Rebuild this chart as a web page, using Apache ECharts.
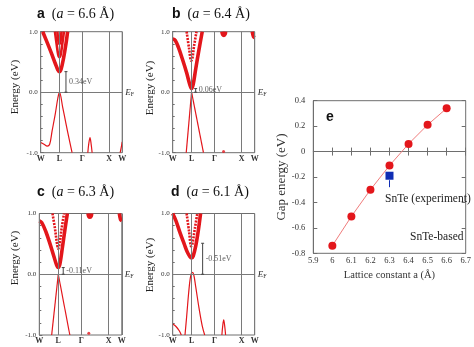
<!DOCTYPE html>
<html><head><meta charset="utf-8">
<script src="https://cdn.jsdelivr.net/npm/echarts@6/dist/echarts.min.js"></script>
<style>html,body{margin:0;padding:0;background:#fff}#c{width:474px;height:347px}</style>
</head><body><div id="c"></div>
<script>
// k-path of the band plots (fraction of path length)
const kNames = ['W', 'L', 'Γ', 'X', 'W'];
const kPos = [0, 0.23, 0.51, 0.84, 1];

// panel titles
const panelLetters = ['a', 'b', 'c', 'd'];
const panelLattice = ['6.6', '6.4', '6.3', '6.1'];
// gap at L quoted in each panel (eV)
const gapValues = [0.34, 0.06, -0.11, -0.51];

// ---- a = 6.6 Å ----
const aValence = [[0, -0.83], [0.04, -0.86], [0.08, -0.89], [0.11, -0.86], [0.14, -0.64], [0.18, -0.35], [0.21, -0.1], [0.23, 0], [0.27, -0.25], [0.31, -0.52], [0.35, -0.78], [0.385, -1.0]];
const aPeak = [[0.578, -1], [0.59, -0.85], [0.605, -0.75], [0.618, -0.85], [0.631, -1]];
const aEdge = [[0.975, -1.0], [0.99, -0.9], [1.0, -0.82]];
const aConduction = [[0.025, 1.0], [0.08, 0.82], [0.13, 0.65], [0.18, 0.47], [0.21, 0.37], [0.23, 0.34], [0.25, 0.38], [0.28, 0.56], [0.31, 0.8], [0.33, 1.0]];
const aUpper1 = [[0.175, 1.0], [0.195, 0.8], [0.215, 0.62], [0.23, 0.58], [0.245, 0.62], [0.265, 0.8], [0.285, 1.0]];
const aUpper2 = [[0.205, 1.0], [0.215, 0.86], [0.23, 0.8], [0.245, 0.86], [0.255, 1.0]];

// ---- a = 6.4 Å ----
const bValenceL = [[0.165, -1.0], [0.23, 0]];
const bValenceR = [[0.23, 0], [0.375, -1.0]];
const bConduction = [[0, 0.88], [0.03, 0.86], [0.07, 0.74], [0.12, 0.54], [0.17, 0.32], [0.21, 0.12], [0.23, 0.06], [0.25, 0.13], [0.28, 0.38], [0.32, 0.7], [0.36, 1.0]];
const bUpper = [[0.17, 1.0], [0.2, 0.72], [0.225, 0.52], [0.24, 0.56], [0.26, 0.76], [0.29, 1.0]];
const bBlob = [[0.6, 1.0], [0.61, 0.95], [0.625, 0.94], [0.64, 0.96], [0.645, 1.0]];
const bEdge = [[0.97, 1.0], [0.985, 0.92], [1.0, 0.9]];
const bDot = [[0.62, -0.98]];

// ---- a = 6.3 Å ----
const cValenceL = [[0.15, -1.0], [0.23, 0]];
const cValenceR = [[0.23, 0], [0.37, -1.0]];
const cConduction = [[0, 0.88], [0.03, 0.85], [0.08, 0.7], [0.13, 0.5], [0.18, 0.28], [0.21, 0.15], [0.23, 0.11], [0.25, 0.17], [0.28, 0.44], [0.31, 0.73], [0.34, 1.0]];
const cUpper = [[0.16, 1.0], [0.19, 0.75], [0.215, 0.5], [0.23, 0.42], [0.245, 0.5], [0.27, 0.75], [0.3, 1.0]];
const cBlob = [[0.59, 1.0], [0.6, 0.95], [0.615, 0.94], [0.63, 0.96], [0.635, 1.0]];
const cEdge = [[0.97, 1.0], [0.985, 0.9], [1.0, 0.88]];
const cDot = [[0.6, -0.97]];

// ---- a = 6.1 Å ----
const dValence = [[0.15, -1.0], [0.17, -0.7], [0.195, -0.3], [0.215, -0.06], [0.235, 0.03], [0.255, 0.0], [0.28, -0.2], [0.32, -0.55], [0.36, -0.85], [0.39, -1.0]];
const dEdgeL = [[0, -0.82], [0.04, -0.86], [0.08, -0.93], [0.105, -1.0]];
const dPeak = [[0.6, -1], [0.61, -0.85], [0.622, -0.75], [0.634, -0.85], [0.645, -1]];
const dConduction = [[0, 1.0], [0.04, 0.88], [0.09, 0.68], [0.14, 0.5], [0.18, 0.36], [0.21, 0.29], [0.23, 0.27], [0.25, 0.3], [0.28, 0.46], [0.31, 0.7], [0.34, 1.0]];
const dUpper = [[0.17, 1.0], [0.2, 0.7], [0.225, 0.46], [0.24, 0.5], [0.27, 0.75], [0.3, 1.0]];

// ---- gap energy vs lattice constant ----
const latticeConst = [6.0, 6.1, 6.2, 6.3, 6.4, 6.5, 6.6];
const gapEnergy = [-0.74, -0.51, -0.30, -0.11, 0.06, 0.21, 0.34];
const expLattice = [6.3];
const expGap = [-0.19];

const RED = '#e3161b';
const BLUE = '#0f2db4';
const FRAME = '#6e6e6e';
const SERIF = '"Liberation Serif", "DejaVu Serif", serif';
const SANS = '"Liberation Sans", Arial, sans-serif';

const bandGrids = [
  { left: 40.7, top: 31.7, width: 81.5, height: 121 },
  { left: 172.7, top: 31.7, width: 82, height: 121 },
  { left: 39.3, top: 213.5, width: 82.5, height: 121.5 },
  { left: 172.7, top: 213.5, width: 82, height: 121.5 }
];
const gridE = { left: 313.3, top: 100.7, width: 153.7, height: 152.6 };

const grids = bandGrids.concat([gridE]).map(g => Object.assign({
  show: true, borderColor: FRAME, borderWidth: 1, backgroundColor: 'transparent'
}, g));

const xAxes = [];
const yAxes = [];
for (let i = 0; i < 4; i++) {
  xAxes.push({
    type: 'value', gridIndex: i, min: 0, max: 1,
    axisLine: { show: false }, axisTick: { show: false },
    axisLabel: { show: false }, splitLine: { show: false }
  });
  yAxes.push({
    type: 'value', gridIndex: i, min: -1, max: 1, interval: 1,
    axisLine: { show: true, lineStyle: { color: FRAME } },
    axisTick: { show: true, inside: true, length: 3, lineStyle: { color: FRAME } },
    minorTick: { show: true, splitNumber: 5, length: 2, lineStyle: { color: FRAME } },
    splitLine: { show: false },
    axisLabel: {
      fontFamily: SERIF, fontSize: 7, color: '#333', margin: 3,
      formatter: v => v.toFixed(1)
    }
  });
}
// gap-energy panel
xAxes.push({
  type: 'value', gridIndex: 4, min: 5.9, max: 6.7, interval: 0.1,
  axisLine: { show: true, lineStyle: { color: FRAME } },
  axisTick: { show: true, inside: true, length: 4, lineStyle: { color: FRAME } },
  splitLine: { show: false },
  axisLabel: { fontFamily: SERIF, fontSize: 8.5, color: '#333', margin: 3, formatter: v => String(+v.toFixed(1)) },
  name: 'Lattice constant a (Å)', nameLocation: 'middle', nameGap: 16,
  nameTextStyle: { fontFamily: SERIF, fontSize: 10.5, color: '#333' }
});
yAxes.push({
  type: 'value', gridIndex: 4, min: -0.8, max: 0.4, interval: 0.2,
  axisLine: { show: true, lineStyle: { color: FRAME } },
  axisTick: { show: true, inside: true, length: 4, lineStyle: { color: FRAME } },
  splitLine: { show: false },
  axisLabel: { fontFamily: SERIF, fontSize: 8.5, color: '#333', margin: 8, formatter: v => (Math.abs(v) < 1e-9 ? '0' : v.toFixed(1)) },
  name: 'Gap energy (eV)', nameLocation: 'middle', nameGap: 22, nameRotate: 90,
  nameTextStyle: { fontFamily: SERIF, fontSize: 13, color: '#333' }
});
// mirrored ticks on the top and right edges
xAxes.push({
  type: 'value', gridIndex: 4, position: 'top', min: 5.9, max: 6.7, interval: 0.1,
  axisLine: { show: false }, axisLabel: { show: false }, splitLine: { show: false },
  axisTick: { show: true, inside: true, length: 4, lineStyle: { color: FRAME } }
});
yAxes.push({
  type: 'value', gridIndex: 4, position: 'right', min: -0.8, max: 0.4, interval: 0.2,
  axisLine: { show: false }, axisLabel: { show: false }, splitLine: { show: false },
  axisTick: { show: true, inside: true, length: 4, lineStyle: { color: FRAME } }
});

function band(i, data, kind) {
  const widths = { thin: 1.2, thick: 3.6, upper: 2.6, dotted: 2.6 };
  return {
    type: 'line', xAxisIndex: i, yAxisIndex: i, data: data,
    showSymbol: false, symbol: 'none', smooth: 0.35, silent: true,
    clip: true,
    lineStyle: { color: RED, width: widths[kind], type: kind === 'dotted' ? [2, 1.2] : 'solid' },
    z: kind === 'thin' ? 3 : 4
  };
}
function dots(i, data) {
  return {
    type: 'scatter', xAxisIndex: i, yAxisIndex: i, data: data,
    symbolSize: 3, itemStyle: { color: RED }, silent: true
  };
}
// k-point lines, Fermi level and the k labels along the bottom
function guides(i) {
  const lines = kPos.map((x, j) => ({
    xAxis: x,
    label: { show: true, position: 'start', distance: 2, formatter: kNames[j],
             fontFamily: SERIF, fontSize: 8, fontWeight: 'bold', color: '#333' }
  }));
  lines.push({
    yAxis: 0,
    label: { show: true, position: 'end', distance: 3, formatter: '{e|E}{f|F}',
             rich: { e: { fontFamily: SERIF, fontStyle: 'italic', fontSize: 9, color: '#333' },
                     f: { fontFamily: SERIF, fontSize: 6, color: '#333', padding: [5, 0, 0, 0] } } }
  });
  return {
    type: 'line', xAxisIndex: i, yAxisIndex: i, data: [], silent: true,
    markLine: {
      silent: true, symbol: 'none', animation: false,
      lineStyle: { color: '#7a7a7a', width: 1, type: 'solid' },
      data: lines
    }
  };
}
// gap marker: vertical bar of length |gap| above E_F with its label
const gapBarX = [0.31, 0.28, 0.29, 0.365];
function gapMark(i) {
  const g = Math.abs(gapValues[i]);
  return [
    {
      type: 'line', xAxisIndex: i, yAxisIndex: i, silent: true,
      data: [[gapBarX[i], 0], [gapBarX[i], g]],
      symbol: 'rect', symbolSize: [3, 1], showSymbol: true,
      itemStyle: { color: '#444' }, lineStyle: { color: '#444', width: 1 }, z: 5
    },
    {
      type: 'scatter', xAxisIndex: i, yAxisIndex: i, silent: true,
      data: [[gapBarX[i], g / 2]], symbolSize: 0,
      label: { show: true, position: 'right', distance: 3, formatter: gapValues[i].toFixed(2) + 'eV',
               fontFamily: SERIF, fontSize: 8, color: '#333' }, z: 6
    }
  ];
}

const series = [
  guides(0), guides(1), guides(2), guides(3),
  band(0, aValence, 'thin'), band(0, aPeak, 'thin'), band(0, aEdge, 'thin'),
  band(0, aConduction, 'thick'), band(0, aUpper1, 'upper'), band(0, aUpper2, 'upper'),
  band(1, bValenceL, 'thin'), band(1, bValenceR, 'thin'),
  band(1, bConduction, 'thick'), band(1, bUpper, 'dotted'),
  band(1, bBlob, 'thick'), band(1, bEdge, 'thick'), dots(1, bDot),
  band(2, cValenceL, 'thin'), band(2, cValenceR, 'thin'),
  band(2, cConduction, 'thick'), band(2, cUpper, 'dotted'),
  band(2, cBlob, 'thick'), band(2, cEdge, 'thick'), dots(2, cDot),
  band(3, dValence, 'thin'), band(3, dEdgeL, 'thin'), band(3, dPeak, 'thin'),
  band(3, dConduction, 'thick'), band(3, dUpper, 'dotted'),
  ...gapMark(0), ...gapMark(1), ...gapMark(2), ...gapMark(3),
  {
    type: 'line', xAxisIndex: 4, yAxisIndex: 4, silent: true,
    data: latticeConst.map((x, i) => [x, gapEnergy[i]]),
    symbol: 'circle', symbolSize: 8, showSymbol: true,
    itemStyle: { color: RED }, lineStyle: { color: '#f07c7c', width: 1 }, z: 4
  },
  {
    type: 'scatter', xAxisIndex: 4, yAxisIndex: 4, silent: true,
    data: expLattice.map((x, i) => [x, expGap[i]]),
    symbol: 'rect', symbolSize: 8, itemStyle: { color: BLUE, opacity: 1 }, z: 6,
    markLine: {
      silent: true, symbol: ['none', 'arrow'], symbolSize: [0, 5], animation: false,
      lineStyle: { color: BLUE, width: 1, type: 'solid' }, label: { show: false },
      data: [[{ coord: [expLattice[0], expGap[0] - 0.09] }, { coord: [expLattice[0], expGap[0] - 0.035] }]]
    }
  }
];

// panel titles and y-axis names
const titlePos = [[37, 14], [172, 14], [37, 192], [171, 192]];
const energyPos = [[15, 87], [150, 88], [15, 258], [150, 265]];
const graphics = [];
for (let i = 0; i < 4; i++) {
  graphics.push({
    type: 'text', x: titlePos[i][0], y: titlePos[i][1], silent: true,
    style: {
      text: '{b|' + panelLetters[i] + '}  ({i|a} = ' + panelLattice[i] + ' Å)',
      verticalAlign: 'middle', fill: '#111',
      rich: {
        b: { fontFamily: SANS, fontWeight: 'bold', fontSize: 14, fill: '#111' },
        i: { fontFamily: SERIF, fontStyle: 'italic', fontSize: 14, fill: '#111' }
      },
      fontFamily: SERIF, fontSize: 14
    }
  });
  graphics.push({
    type: 'text', x: energyPos[i][0], y: energyPos[i][1], rotation: Math.PI / 2, silent: true,
    style: { text: 'Energy (eV)', fontFamily: SERIF, fontSize: 11, fill: '#222', align: 'center', verticalAlign: 'middle' }
  });
}
graphics.push(
  { type: 'text', x: 326, y: 117, silent: true,
    style: { text: 'e', fontFamily: SANS, fontWeight: 'bold', fontSize: 14, fill: '#111', verticalAlign: 'middle' } },
  { type: 'text', x: 385, y: 199, silent: true,
    style: { text: 'SnTe (experiment)', fontFamily: SERIF, fontSize: 11.5, fill: '#222', verticalAlign: 'middle' } },
  { type: 'text', x: 410, y: 236.5, silent: true,
    style: { text: 'SnTe-based', fontFamily: SERIF, fontSize: 11.5, fill: '#222', verticalAlign: 'middle' } }
);

const chart = echarts.init(document.getElementById('c'), null, { renderer: 'canvas' });
chart.setOption({
  animation: false,
  backgroundColor: '#fff',
  grid: grids,
  xAxis: xAxes,
  yAxis: yAxes,
  series: series,
  graphic: graphics
});
</script>
</body></html>
